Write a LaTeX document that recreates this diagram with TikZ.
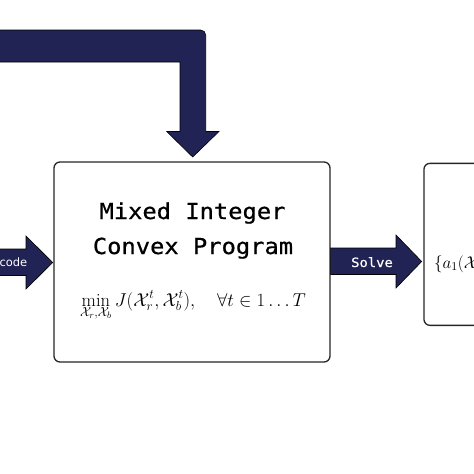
\RequirePackage{fix-cm}
\documentclass[tikz,border=0pt]{standalone}
\usepackage{fontspec}
\newfontfamily\monof[FakeStretch=1.08,FakeBold=0.6]{DejaVu Sans Mono}
\newfontfamily\sansf{DejaVu Sans}
\definecolor{navy}{RGB}{32,35,84}
\begin{document}
\begin{tikzpicture}[x=1pt,y=-1pt,
  blockarrow/.style={fill=navy, draw=black, line width=0.6pt, line join=miter},
  box/.style={draw=black!85, line width=1.3pt, rounded corners=6pt, fill=white, inner sep=0pt},
  title/.style={font=\monof\fontsize{22}{26}\selectfont, anchor=base, inner sep=0pt},
  mathlbl/.style={font=\fontsize{18.6}{22}\selectfont, inner sep=0pt},
  lbl/.style={text=white, inner sep=0pt}]
\useasboundingbox (0,0) rectangle (474,474);
\clip (0,0) rectangle (474,474);
% boxes
\node[box, minimum width=276pt, minimum height=200pt] (prog) at (192,262) {};
\node[box, anchor=north west, minimum width=120pt, minimum height=162pt] (res) at (423.3,162.7) {};
% texts
\node[title] (t1) at (192.5,219) {Mixed Integer};
\node[title] (t2) at (193,254) {Convex Program};
\node[mathlbl, anchor=base] (form) at (193,306) {$\displaystyle\min_{\mathcal{X}_r,\mathcal{X}_b} J(\mathcal{X}_r^t,\mathcal{X}_b^t),\quad \forall t\in 1\ldots T$};
\node[font=\fontsize{17}{20}\selectfont, inner sep=0pt, anchor=base west] (restext) at (434,268) {$\{a_1(\mathcal{X}$};
% top feedback arrow
\draw[blockarrow] (-5,30) -- (200.7,30) arc[start angle=-90,end angle=0,radius=5] -- (205.7,131.5) -- (219,131.5) -- (192.7,157) -- (166.7,131.5) -- (180,131.5) -- (180,62) -- (-5,62) -- cycle;
% encode arrow
\draw[blockarrow] (-5,249) -- (26,249) -- (26,236) -- (52.7,262.5) -- (26,289) -- (26,275.5) -- (-5,275.5) -- cycle;
\node[lbl, anchor=base east, font=\sansf\fontsize{11.5}{13}\selectfont] (enc) at (27.5,266.5) {code};
% solve arrow
\draw[blockarrow] (prog.east |- 0,248) -- (396,248) -- (396,235) -- (421.7,261.5) -- (396,288) -- (396,274.5) -- (prog.east |- 0,274.5) -- cycle;
\node[lbl, anchor=base, font=\monof\fontsize{12.8}{15}\selectfont] (solve) at (372,267) {Solve};
\end{tikzpicture}
\end{document}
